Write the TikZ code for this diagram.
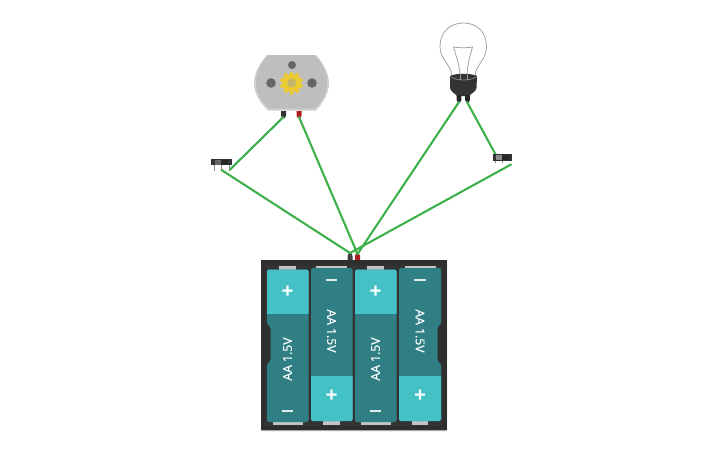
\documentclass[tikz,border=0pt]{standalone}
\usepackage{fontspec}
\setmainfont{Open Sans}
\definecolor{wire}{HTML}{3DB04A}
\definecolor{holder}{HTML}{2E2E2E}
\definecolor{holderedge}{HTML}{A8A8A8}
\definecolor{teal}{HTML}{2F7F85}
\definecolor{aqua}{HTML}{44C1C4}
\definecolor{tab}{HTML}{C4C4C4}
\definecolor{motorbody}{HTML}{BEBEBE}
\definecolor{motorhole}{HTML}{666666}
\definecolor{gear}{HTML}{EBCB2F}
\definecolor{hub}{HTML}{C4B66A}
\definecolor{termred}{HTML}{B01C20}
\definecolor{glass}{HTML}{9A9A9A}
\definecolor{switchbody}{HTML}{333333}
\tikzset{
  x=1pt,y=-1pt,
  wireline/.style={draw=wire,line width=2.1pt,line cap=round},
  celltext/.style={text=white,font=\fontsize{12.2}{12}\selectfont\addfontfeature{FakeBold=0.25},inner sep=0pt},
  cellsign/.style={text=white,font=\fontsize{21}{21}\selectfont\bfseries,inner sep=0pt}
}
\begin{document}
\begin{tikzpicture}
\useasboundingbox (0,0) rectangle (725,453);
% battery holder
\fill[holderedge,rounded corners=1pt] (261,260) rectangle (447,431);
\fill[holder] (261,260) rectangle (447,429.8);
\fill[black!80] (265,265) rectangle (443,425.5);
% tabs
\fill[tab] (279,266) rectangle (296,270);
\fill[tab] (316,265.5) rectangle (347,268);
\fill[tab] (367,266) rectangle (384,270);
\fill[tab] (405,265.5) rectangle (435.5,268);
\fill[tab] (272.5,421) rectangle (303,424.5);
\fill[tab] (323,420) rectangle (340,424.5);
\fill[tab] (361,421) rectangle (391,424.5);
\fill[tab] (412,420) rectangle (428,424.5);
% holder notches
\fill[holder,rounded corners=2pt] (262,323) rectangle (271,365);
\fill[holder,rounded corners=2pt] (437,323) rectangle (446,365);
% cell 1
\begin{scope}
\clip[rounded corners=1.5pt] (267,269.5) -- (308.5,269.5) -- (308.5,422) -- (267,422) -- (267,364) -- (270.5,361) -- (270.5,327) -- (267,324) -- cycle;
\fill[teal] (260,260) rectangle (310,430);
\fill[aqua] (260,260) rectangle (310,314);
\end{scope}
\node[cellsign] (c1p) at (287.5,292.5) {+};
\node[celltext,rotate=90] (c1t) at (287.5,359) {AA 1.5V};
\fill[white!85!teal] (281.5,410) rectangle (293,412);
% cell 2
\begin{scope}
\clip[rounded corners=1.5pt] (311,268) rectangle (352.5,421);
\fill[teal] (305,260) rectangle (355,430);
\fill[aqua] (305,376) rectangle (355,430);
\end{scope}
\node[cellsign] (c2p) at (331.5,396.5) {+};
\node[celltext,rotate=-90] (c2t) at (331.5,331) {AA 1.5V};
\fill[white!85!teal] (326,278.5) rectangle (337,280.5);
% cell 3
\begin{scope}
\clip[rounded corners=1.5pt] (355,269.5) rectangle (396.5,422);
\fill[teal] (350,260) rectangle (400,430);
\fill[aqua] (350,260) rectangle (400,314);
\end{scope}
\node[cellsign] (c3p) at (375.5,292.5) {+};
\node[celltext,rotate=90] (c3t) at (375.5,359) {AA 1.5V};
\fill[white!85!teal] (370,410) rectangle (381,412);
% cell 4
\begin{scope}
\clip[rounded corners=1.5pt] (399,268) -- (441,268) -- (441,324) -- (437.5,327) -- (437.5,361) -- (441,364) -- (441,421) -- (399,421) -- cycle;
\fill[teal] (395,260) rectangle (445,430);
\fill[aqua] (395,376) rectangle (445,430);
\end{scope}
\node[cellsign] (c4p) at (420,396.5) {+};
\node[celltext,rotate=-90] (c4t) at (420,331) {AA 1.5V};
\fill[white!85!teal] (414,278.5) rectangle (426,280.5);
% motor
\fill[motorbody!75!white] (267,55) .. controls (259,64) and (254,74) .. (254,83) .. controls (254,92) and (259,102) .. (268,110.5) -- (316,110.5) .. controls (324,102) and (329,92) .. (329,83) .. controls (329,74) and (324,64) .. (316,55) -- cycle;
\fill[motorbody] (268,55) .. controls (260,64) and (256,74) .. (256,83) .. controls (256,92) and (260,101) .. (269,108.5) -- (315,108.5) .. controls (323,101) and (327,92) .. (327,83) .. controls (327,74) and (323,64) .. (315,55) -- cycle;
\fill[motorhole] (292,65) circle (4);
\fill[motorhole] (271,83) circle (4.8);
\fill[motorhole] (312,83) circle (4.8);
\foreach \a in {0,36,...,324}{\fill[gear,rotate around={\a:(291.5,83)}] (289.6,71.5) rectangle (293.4,76);}
\fill[gear] (291.5,83) circle (9);
\fill[hub] (291.5,83) circle (4.6);
\fill[black!80] (281,111) -- (286,111) -- (286,115.5) -- (284.8,118) -- (282.2,118) -- (281,115.5) -- cycle;
\fill[termred] (296.5,111) -- (301.5,111) -- (301.5,115.5) -- (300.3,118) -- (297.7,118) -- (296.5,115.5) -- cycle;
% bulb
\draw[glass,line width=0.7pt,fill=white] (452,76) .. controls (451,64) and (440,60) .. (440,46.5) .. controls (440,32) and (450,23) .. (463.5,23) .. controls (477,23) and (486.5,32) .. (486.5,46.5) .. controls (486.5,60) and (476,64) .. (475,76);
\draw[glass,line width=0.7pt] (460,76) .. controls (460,66) and (456,56) .. (453.5,47) .. controls (459,48) and (467,48) .. (472.5,47) .. controls (470,56) and (467,66) .. (467,76);
\fill[switchbody] (450,76) .. controls (456,73) and (471,73) .. (477,76) -- (476.5,88) .. controls (476,92) and (470,94) .. (469,96) -- (457,96) .. controls (456,94) and (450.5,92) .. (450,88) -- cycle;
\draw[black!50,line width=0.8pt] (451,77) .. controls (457,81) and (470,81) .. (476,77);
\draw[glass,line width=0.7pt] (460,73) -- (460,79.5) (467,73) -- (467,79.5);
\fill[black!85] (456.7,95) -- (461.3,95) -- (461.3,100) -- (460.2,102.5) -- (457.8,102.5) -- (456.7,100) -- cycle;
\fill[black!85] (465.2,95) -- (469.8,95) -- (469.8,100) -- (468.7,102.5) -- (466.3,102.5) -- (465.2,100) -- cycle;
% battery terminals
\fill[black!75] (349,252.5) -- (351,252.5) -- (352.5,256) -- (352.5,260) -- (347.5,260) -- (347.5,256) -- cycle;
\fill[termred] (356.5,252.5) -- (358.5,252.5) -- (360,256) -- (360,260) -- (355,260) -- (355,256) -- cycle;
% connector anchors
\coordinate (motorneg) at (283.5,117);
\coordinate (motorpos) at (299,117);
\coordinate (bulbl) at (459,102);
\coordinate (bulbr) at (467,102);
\coordinate (lswa) at (229.5,170);
\coordinate (lswb) at (221.5,170);
\coordinate (rswa) at (497,157);
\coordinate (rswb) at (511,164.5);
\coordinate (batneg) at (350,253);
\coordinate (batpos) at (357.5,254);
% left switch pins
\fill[black!45] (214,164) rectangle (215,171);
\fill[black!45] (221,164) rectangle (222,171);
\fill[black!45] (229,164) rectangle (230,171);
% wires
\draw[wireline] (motorneg) -- (lswa);
\draw[wireline] (lswb) -- (batneg);
\draw[wireline] (motorpos) -- (batpos);
\draw[wireline] (bulbl) -- (batpos);
\draw[wireline] (bulbr) -- (rswa);
\draw[wireline] (rswb) -- (batneg);
% left switch
\fill[switchbody] (211,158.5) rectangle (232,165);
\fill[black!60] (215,160) rectangle (221,164.5);
\fill[black!85] (221,160) rectangle (228,164.5);
% right switch
\fill[black!45] (495,159) rectangle (496,163);
\fill[black!45] (502,159) rectangle (503,163);
\fill[switchbody] (492.5,153.5) rectangle (512,160.5);
\fill[black!45] (496,155) rectangle (502,160);
\fill[black!85] (502,155) rectangle (509,160);
\end{tikzpicture}
\end{document}
